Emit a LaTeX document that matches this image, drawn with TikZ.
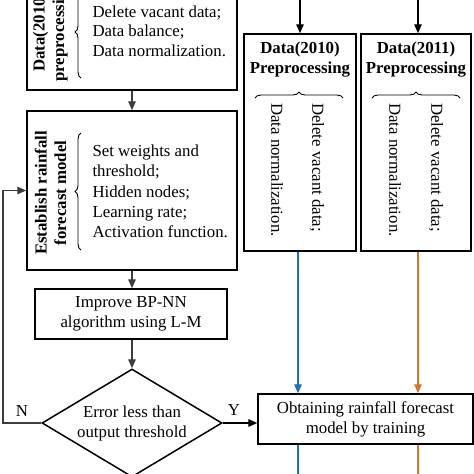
\documentclass[tikz,border=0pt]{standalone}
\usepackage{fontspec}
\setmainfont{Liberation Serif}
\usetikzlibrary{arrows.meta,shapes.geometric,decorations.pathreplacing}
\definecolor{lineblue}{HTML}{1F6FBF}
\definecolor{lineorange}{HTML}{D2772B}
\definecolor{arrgray}{HTML}{3C3C3C}
\begin{document}
\begin{tikzpicture}[x=1pt,y=-1pt,
  every node/.style={font=\fontsize{16.8}{20}\selectfont},
  box/.style={draw=black,line width=1.5pt,inner sep=0pt},
  garrow/.style={draw=arrgray,line width=1.4pt,-{Triangle[length=9pt,width=7.5pt]}},
  barrow/.style={draw=black,line width=1.4pt,-{Triangle[length=9pt,width=7.5pt]}},
  bluearrow/.style={draw=lineblue,line width=1.4pt,-{Triangle[length=9pt,width=7.5pt]}},
  orangearrow/.style={draw=lineorange,line width=1.4pt,-{Triangle[length=9pt,width=7.5pt]}},
  bracestyle/.style={draw=black,line width=0.9pt,decorate,decoration={brace,amplitude=6pt}},
  rottitle/.style={rotate=90,align=center,font=\bfseries\fontsize{16.8}{19.5}\selectfont},
  vtext/.style={rotate=-90,anchor=west,inner sep=0pt}
]
\useasboundingbox (0,0) rectangle (474,474);
\clip (0,0) rectangle (474,474);
\fill[white] (0,0) rectangle (474,474);

% left column boxes
\node[box,minimum width=210pt,minimum height=170pt] (b1) at (132,5) {};
\node[rottitle] (b1t) at (50.5,32) {Data(2010)\\preprocessing};
\draw[bracestyle] (81,78) -- (81,-14);
\node[anchor=west,align=left,font=\fontsize{16.8}{19.5}\selectfont] (b1l) at (89,31) {Delete vacant data;\\Data balance;\\Data normalization.};

\node[box,minimum width=210pt,minimum height=159pt] (b2) at (132,190.5) {};
\node[rottitle] (b2t) at (50.5,193) {Establish rainfall\\forecast model};
\draw[bracestyle] (81,250) -- (81,133);
\node[anchor=west,align=left,font=\fontsize{16.8}{20.25}\selectfont] (b2l) at (89,191.5) {Set weights and\\threshold;\\Hidden nodes;\\Learning rate;\\Activation function.};

\node[box,minimum width=192pt,minimum height=50pt,align=center] (b3) at (131,314) {Improve BP-NN\\algorithm using L-M};

\node[diamond,draw=black,line width=1.5pt,aspect=1.667,inner sep=0pt,minimum width=180pt,minimum height=108pt,
  label={[align=center]center:Error less than\\output threshold}] (dia) at (132,423) {};

% right column boxes
\node[box,minimum width=112pt,minimum height=217pt] (d10) at (300,142.5) {};
\node[align=center,font=\bfseries\fontsize{16.8}{20}\selectfont] (d10t) at (300,60) {Data(2010)\\Preprocessing};
\draw[bracestyle] (255,98) -- (343,98);
\node[vtext] (d10a) at (317,103) {Delete vacant data;};
\node[vtext] (d10b) at (277,103) {Data normalization.};

\node[box,minimum width=110pt,minimum height=217pt] (d11) at (416,142.5) {};
\node[align=center,font=\bfseries\fontsize{16.8}{20}\selectfont] (d11t) at (416,60) {Data(2011)\\Preprocessing};
\draw[bracestyle] (372,98) -- (460,98);
\node[vtext] (d11a) at (436,103) {Delete vacant data;};
\node[vtext] (d11b) at (395,103) {Data normalization.};

\node[box,minimum width=215pt,minimum height=50pt,align=center] (obt) at (365.5,419) {Obtaining rainfall forecast\\model by training};

% coordinates
\coordinate (t10) at (300,-5);
\coordinate (t11) at (418,-5);
\coordinate (bx) at (298,0);
\coordinate (ox) at (418,0);
\coordinate (nx) at (3,0);
\coordinate (bend) at (298,480);
\coordinate (oend) at (418,480);

% connectors
\draw[barrow] (t10) -- (t10 |- d10.north);
\draw[barrow] (t11) -- (t11 |- d11.north);
\draw[garrow] (b1.south) -- (b2.north);
\draw[garrow] (b2.south) -- (b2.south |- b3.north);
\draw[garrow] (b3.south -| dia.north) -- (dia.north);
\draw[garrow] (dia.west) -- (dia.west -| nx) |- (b2.west);
\draw[barrow] (dia.east) -- (dia.east -| obt.west);
\draw[bluearrow] (bx |- d10.south) -- (bx |- obt.north);
\draw[orangearrow] (ox |- d11.south) -- (ox |- obt.north);
\draw[draw=lineblue,line width=1.4pt] (bx |- obt.south) -- (bend);
\draw[draw=lineorange,line width=1.4pt] (ox |- obt.south) -- (oend);

\node (nlab) at (22,411) {N};
\node (ylab) at (234,410) {Y};
\end{tikzpicture}
\end{document}
